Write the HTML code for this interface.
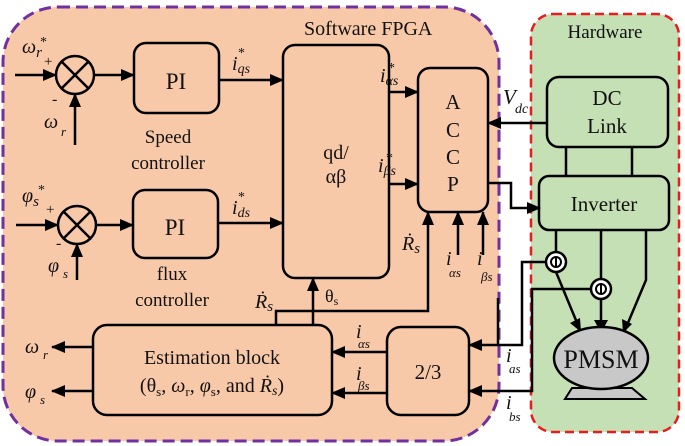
<!DOCTYPE html>
<html><head><meta charset="utf-8"><style>
body{margin:0;background:#fff}
svg{display:block}
svg text{font-family:"Liberation Serif","DejaVu Serif",serif;fill:#111}
.i{font-style:italic}
</style></head><body>
<svg width="685" height="446" viewBox="0 0 685 446" xmlns="http://www.w3.org/2000/svg" font-family="Liberation Serif, DejaVu Serif, serif">
<defs>
<marker id="a" markerWidth="14" markerHeight="12" refX="13" refY="6" orient="auto" markerUnits="userSpaceOnUse" viewBox="0 0 14 12">
<path d="M0,0 L14,6 L0,12 z" fill="#000"/></marker>
</defs>
<rect x="3" y="7" width="496" height="434" rx="55" fill="#f8c9a8" stroke="#7030a0" stroke-width="3" stroke-dasharray="12,6"/>
<rect x="531" y="14" width="148" height="418" rx="22" fill="#c5e0b4" stroke="#e81c1c" stroke-width="2.5" stroke-dasharray="9,5"/>
<g fill="none" stroke="#000" stroke-width="2.5">
<circle cx="75" cy="75" r="19"/><path d="M62,62 L88,88 M88,62 L62,88"/>
<circle cx="77" cy="225" r="19"/><path d="M64,212 L90,238 M90,212 L64,238"/>
<rect x="134" y="43" width="85" height="70" rx="12"/>
<rect x="133" y="190" width="85" height="68" rx="12"/>
<rect x="283" y="45" width="106" height="233" rx="12"/>
<rect x="418" y="68" width="70" height="144" rx="12"/>
<rect x="547" y="77" width="121" height="70" rx="12"/>
<rect x="539" y="176" width="130" height="54" rx="10"/>
<rect x="93" y="325" width="239" height="90" rx="14"/>
<rect x="387" y="327" width="82" height="88" rx="14"/>
<path d="M15,75 L56,75" marker-end="url(#a)"/>
<path d="M75,145 L75,94" marker-end="url(#a)"/>
<path d="M94,75 L134,75" marker-end="url(#a)"/>
<path d="M219,80 L283,80" marker-end="url(#a)"/>
<path d="M16,225 L58,225" marker-end="url(#a)"/>
<path d="M77,280 L77,244" marker-end="url(#a)"/>
<path d="M96,225 L133,225" marker-end="url(#a)"/>
<path d="M218,223 L283,223" marker-end="url(#a)"/>
<path d="M389,92 L418,92" marker-end="url(#a)"/>
<path d="M389,184 L418,184" marker-end="url(#a)"/>
<path d="M547,123 L488,123" marker-end="url(#a)"/>
<path d="M488,183 L511,183 L511,208 L540,208" marker-end="url(#a)"/>
<path d="M566,147 L566,176 M632,147 L632,176"/>
<path d="M276,325 L276,311 L428,311 L428,212" marker-end="url(#a)"/>
<path d="M313,325 L313,278" marker-end="url(#a)"/>
<path d="M458,255 L458,212" marker-end="url(#a)"/>
<path d="M483,255 L483,212" marker-end="url(#a)"/>
<path d="M387,352 L332,352" marker-end="url(#a)"/>
<path d="M387,393 L332,393" marker-end="url(#a)"/>
<path d="M93,347 L52,347" marker-end="url(#a)"/>
<path d="M93,391 L52,391" marker-end="url(#a)"/>
<path d="M546,262 L522,262 L522,345 L469,345" marker-end="url(#a)"/>
<path d="M591,289 L532,289 L532,391 L469,391" marker-end="url(#a)"/>
<path d="M498,298 L498,345"/>
<path d="M556,230 L556,252 M556,272 L580,330" />
<path d="M601,230 L601,279 M601,299 L601,330"/>
<path d="M646,230 L646,280 L625,330"/>
</g>
<g fill="#000"><path d="M581,332 l-11,-9 l10,-5z"/><path d="M601,333 l-7,-13 h14z"/><path d="M623,333 l-1,-14 l10,5z"/></g>
<g fill="#fff" stroke="#000" stroke-width="2.5">
<circle cx="556" cy="262" r="10"/><circle cx="601" cy="289" r="10"/>
</g>
<g fill="none" stroke="#000" stroke-width="2">
<circle cx="556" cy="262" r="5"/><circle cx="601" cy="289" r="5"/>
<path d="M556,257 v10 M601,284 v10"/></g>
<path d="M572,388 L632,388 L645,399 L565,399 z" fill="#c8c8c8" stroke="#000" stroke-width="2"/>
<ellipse cx="601" cy="358" rx="47" ry="31" fill="#c8c8c8" stroke="#000" stroke-width="2.5"/>
<text x="601" y="368" font-size="26" text-anchor="middle">PMSM</text>
<text x="304" y="35" font-size="20">Software FPGA</text>
<text x="605" y="38" font-size="19" text-anchor="middle">Hardware</text>
<text x="176" y="89" font-size="23" text-anchor="middle">PI</text>
<text x="175" y="235" font-size="23" text-anchor="middle">PI</text>
<text x="168" y="143" font-size="19" text-anchor="middle">Speed</text>
<text x="168" y="169" font-size="19" text-anchor="middle">controller</text>
<text x="172" y="280" font-size="19" text-anchor="middle">flux</text>
<text x="172" y="306" font-size="19" text-anchor="middle">controller</text>
<text x="336" y="159" font-size="20" text-anchor="middle">qd/</text>
<text x="336" y="183" font-size="20" text-anchor="middle">αβ</text>
<g font-size="21" text-anchor="middle"><text x="453" y="109">A</text><text x="453" y="137">C</text><text x="453" y="164">C</text><text x="453" y="191">P</text></g>
<text x="607" y="105" font-size="21" text-anchor="middle">DC</text>
<text x="607" y="133" font-size="21" text-anchor="middle">Link</text>
<text x="604" y="211" font-size="21" text-anchor="middle">Inverter</text>
<text x="212" y="364" font-size="20" text-anchor="middle">Estimation block</text>
<text x="212" y="392" font-size="20" text-anchor="middle">(θ<tspan font-size="13" dy="4">s</tspan><tspan dy="-4">, </tspan><tspan class="i">ω</tspan><tspan font-size="13" dy="4">r</tspan><tspan dy="-4">, </tspan><tspan class="i">φ</tspan><tspan font-size="13" dy="4">s</tspan><tspan dy="-4">, and </tspan><tspan class="i">Ṙ</tspan><tspan class="i" font-size="14" dy="3">s</tspan><tspan dy="-3">)</tspan></text>
<text x="428" y="379" font-size="21" text-anchor="middle">2/3</text>
<g>
<text x="22" y="53" font-size="20" class="i">ω<tspan font-size="15" dy="4">r</tspan></text>
<text x="40" y="46" font-size="14">*</text><text x="44" y="66" font-size="15">+</text>
<text x="52" y="104" font-size="16">-</text>
<text x="44" y="128" font-size="20" class="i">ω</text><text x="61" y="136" font-size="13" class="i">r</text>
<text x="22" y="202" font-size="20" class="i">φ<tspan font-size="15" dy="4">s</tspan></text>
<text x="38" y="194" font-size="14">*</text><text x="46" y="214" font-size="15">+</text>
<text x="56" y="248" font-size="16">-</text>
<text x="48" y="272" font-size="20" class="i">φ</text><text x="63" y="278" font-size="13" class="i">s</text>
<text x="232" y="70" font-size="20" class="i">i<tspan font-size="14" dy="3">qs</tspan></text><text x="238" y="57" font-size="14">*</text>
<text x="232" y="214" font-size="20" class="i">i<tspan font-size="14" dy="3">ds</tspan></text><text x="238" y="201" font-size="14">*</text>
<text x="380" y="82" font-size="20" class="i">i<tspan font-size="14" dy="3">αs</tspan></text><text x="388" y="72" font-size="14">*</text>
<text x="378" y="172" font-size="20" class="i">i<tspan font-size="14" dy="3">βs</tspan></text><text x="386" y="162" font-size="14">*</text>
<text x="503" y="104" font-size="21" class="i">V</text><text x="515" y="113" font-size="14" class="i">dc</text>
<text x="402" y="250" font-size="20" class="i">Ṙ<tspan font-size="15" dy="3">s</tspan></text>
<text x="446" y="265" font-size="20" class="i">i</text><text x="449" y="277" font-size="13" class="i">αs</text>
<text x="477" y="265" font-size="20" class="i">i</text><text x="481" y="281" font-size="13" class="i">βs</text>
<text x="255" y="308" font-size="20" class="i">Ṙ<tspan font-size="15" dy="3">s</tspan></text>
<text x="325" y="302" font-size="18">θ<tspan font-size="12" dy="3">s</tspan></text>
<text x="356" y="338" font-size="20" class="i">i</text><text x="358" y="348" font-size="13" class="i">αs</text>
<text x="356" y="380" font-size="20" class="i">i</text><text x="358" y="390" font-size="13" class="i">βs</text>
<text x="506" y="362" font-size="20" class="i">i</text><text x="509" y="373" font-size="13" class="i">as</text>
<text x="506" y="409" font-size="20" class="i">i</text><text x="509" y="421" font-size="13" class="i">bs</text>
<text x="25" y="353" font-size="20" class="i">ω</text><text x="43" y="359" font-size="13" class="i">r</text>
<text x="25" y="398" font-size="20" class="i">φ</text><text x="40" y="404" font-size="13" class="i">s</text>
</g>
</svg>
</body></html>
